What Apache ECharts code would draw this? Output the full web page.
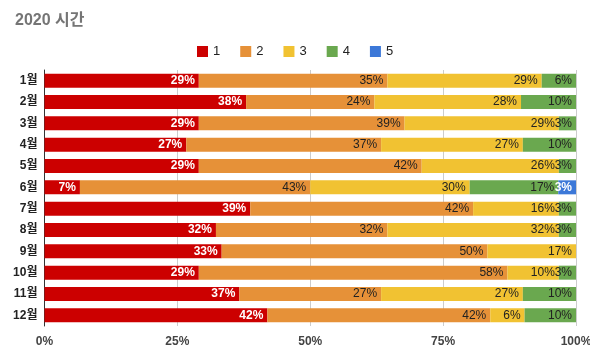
<!DOCTYPE html>
<html><head><meta charset="utf-8">
<script src="https://cdn.jsdelivr.net/npm/echarts@6/dist/echarts.min.js"></script>
<style>html,body{margin:0;padding:0;background:#fff}#c{width:590px;height:361px}</style>
</head><body><div id="c"></div>
<script>
const categories = ['1월','2월','3월','4월','5월','6월','7월','8월','9월','10월','11월','12월'];
const seriesNames = ['1','2','3','4','5'];
const s1 = [9, 11, 9, 8, 9, 2, 12, 10, 10, 9, 11, 13];
const s2 = [11, 7, 12, 11, 13, 13, 13, 10, 15, 18, 8, 13];
const s3 = [9, 8, 9, 8, 8, 9, 5, 10, 5, 3, 8, 2];
const s4 = [2, 3, 1, 3, 1, 5, 1, 1, 0, 1, 3, 3];
const s5 = [0, 0, 0, 0, 0, 1, 0, 0, 0, 0, 0, 0];
const xTicks = ['0%','25%','50%','75%','100%'];
const colors = ['#cc0000','#e69138','#f1c232','#6aa84f','#3c78d8'];
const labelColors = ['#ffffff','#222222','#222222','#222222','#ffffff'];
const labelWeights = ['bold','normal','normal','normal','bold'];

const raw = [s1,s2,s3,s4,s5];
const totals = categories.map((_, i) => raw.reduce((a, s) => a + s[i], 0));
const pct = raw.map(s => s.map((v, i) => v === 0 ? null : v / totals[i] * 100));

const font = '"Liberation Sans", Arial, "Noto Sans CJK KR", sans-serif';
const chart = echarts.init(document.getElementById('c'), null, {renderer: 'canvas'});
chart.setOption({
  animation: false,
  color: colors,
  textStyle: {fontFamily: font},
  title: {text: '2020 시간', left: 10, top: 8,
    textStyle: {fontSize: 16, fontWeight: 'bold', color: '#757575', fontFamily: font}},
  legend: {data: seriesNames, top: 40, left: 192, itemWidth: 11, itemHeight: 11, itemGap: 20,
    icon: 'rect', textStyle: {fontSize: 13, color: '#222', fontFamily: font}},
  grid: {left: 44.5, right: 14, top: 70, bottom: 35, containLabel: false, outerBoundsMode: 'none'},
  xAxis: {type: 'value', min: 0, max: 100, interval: 25,
    axisLine: {show: false}, axisTick: {show: false},
    splitLine: {lineStyle: {color: '#cccccc'}},
    axisLabel: {formatter: v => xTicks[v / 25], fontSize: 12, fontWeight: 'bold', color: '#444', margin: 10, fontFamily: font}},
  yAxis: {type: 'category', data: categories, inverse: true,
    axisLine: {show: true, lineStyle: {color: '#333', width: 1}}, axisTick: {show: false},
    axisLabel: {fontSize: 12, fontWeight: 'bold', color: '#222', margin: 7, fontFamily: font}},
  series: seriesNames.map((n, k) => ({
    name: n, type: 'bar', stack: 'total', barWidth: 14,
    data: pct[k],
    itemStyle: {color: colors[k]},
    label: {show: true, position: 'insideRight', distance: 4,
      color: labelColors[k], fontWeight: labelWeights[k], fontSize: 12, fontFamily: font,
      formatter: p => p.value == null ? '' : Math.round(p.value) + '%'}
  }))
});
</script></body></html>
